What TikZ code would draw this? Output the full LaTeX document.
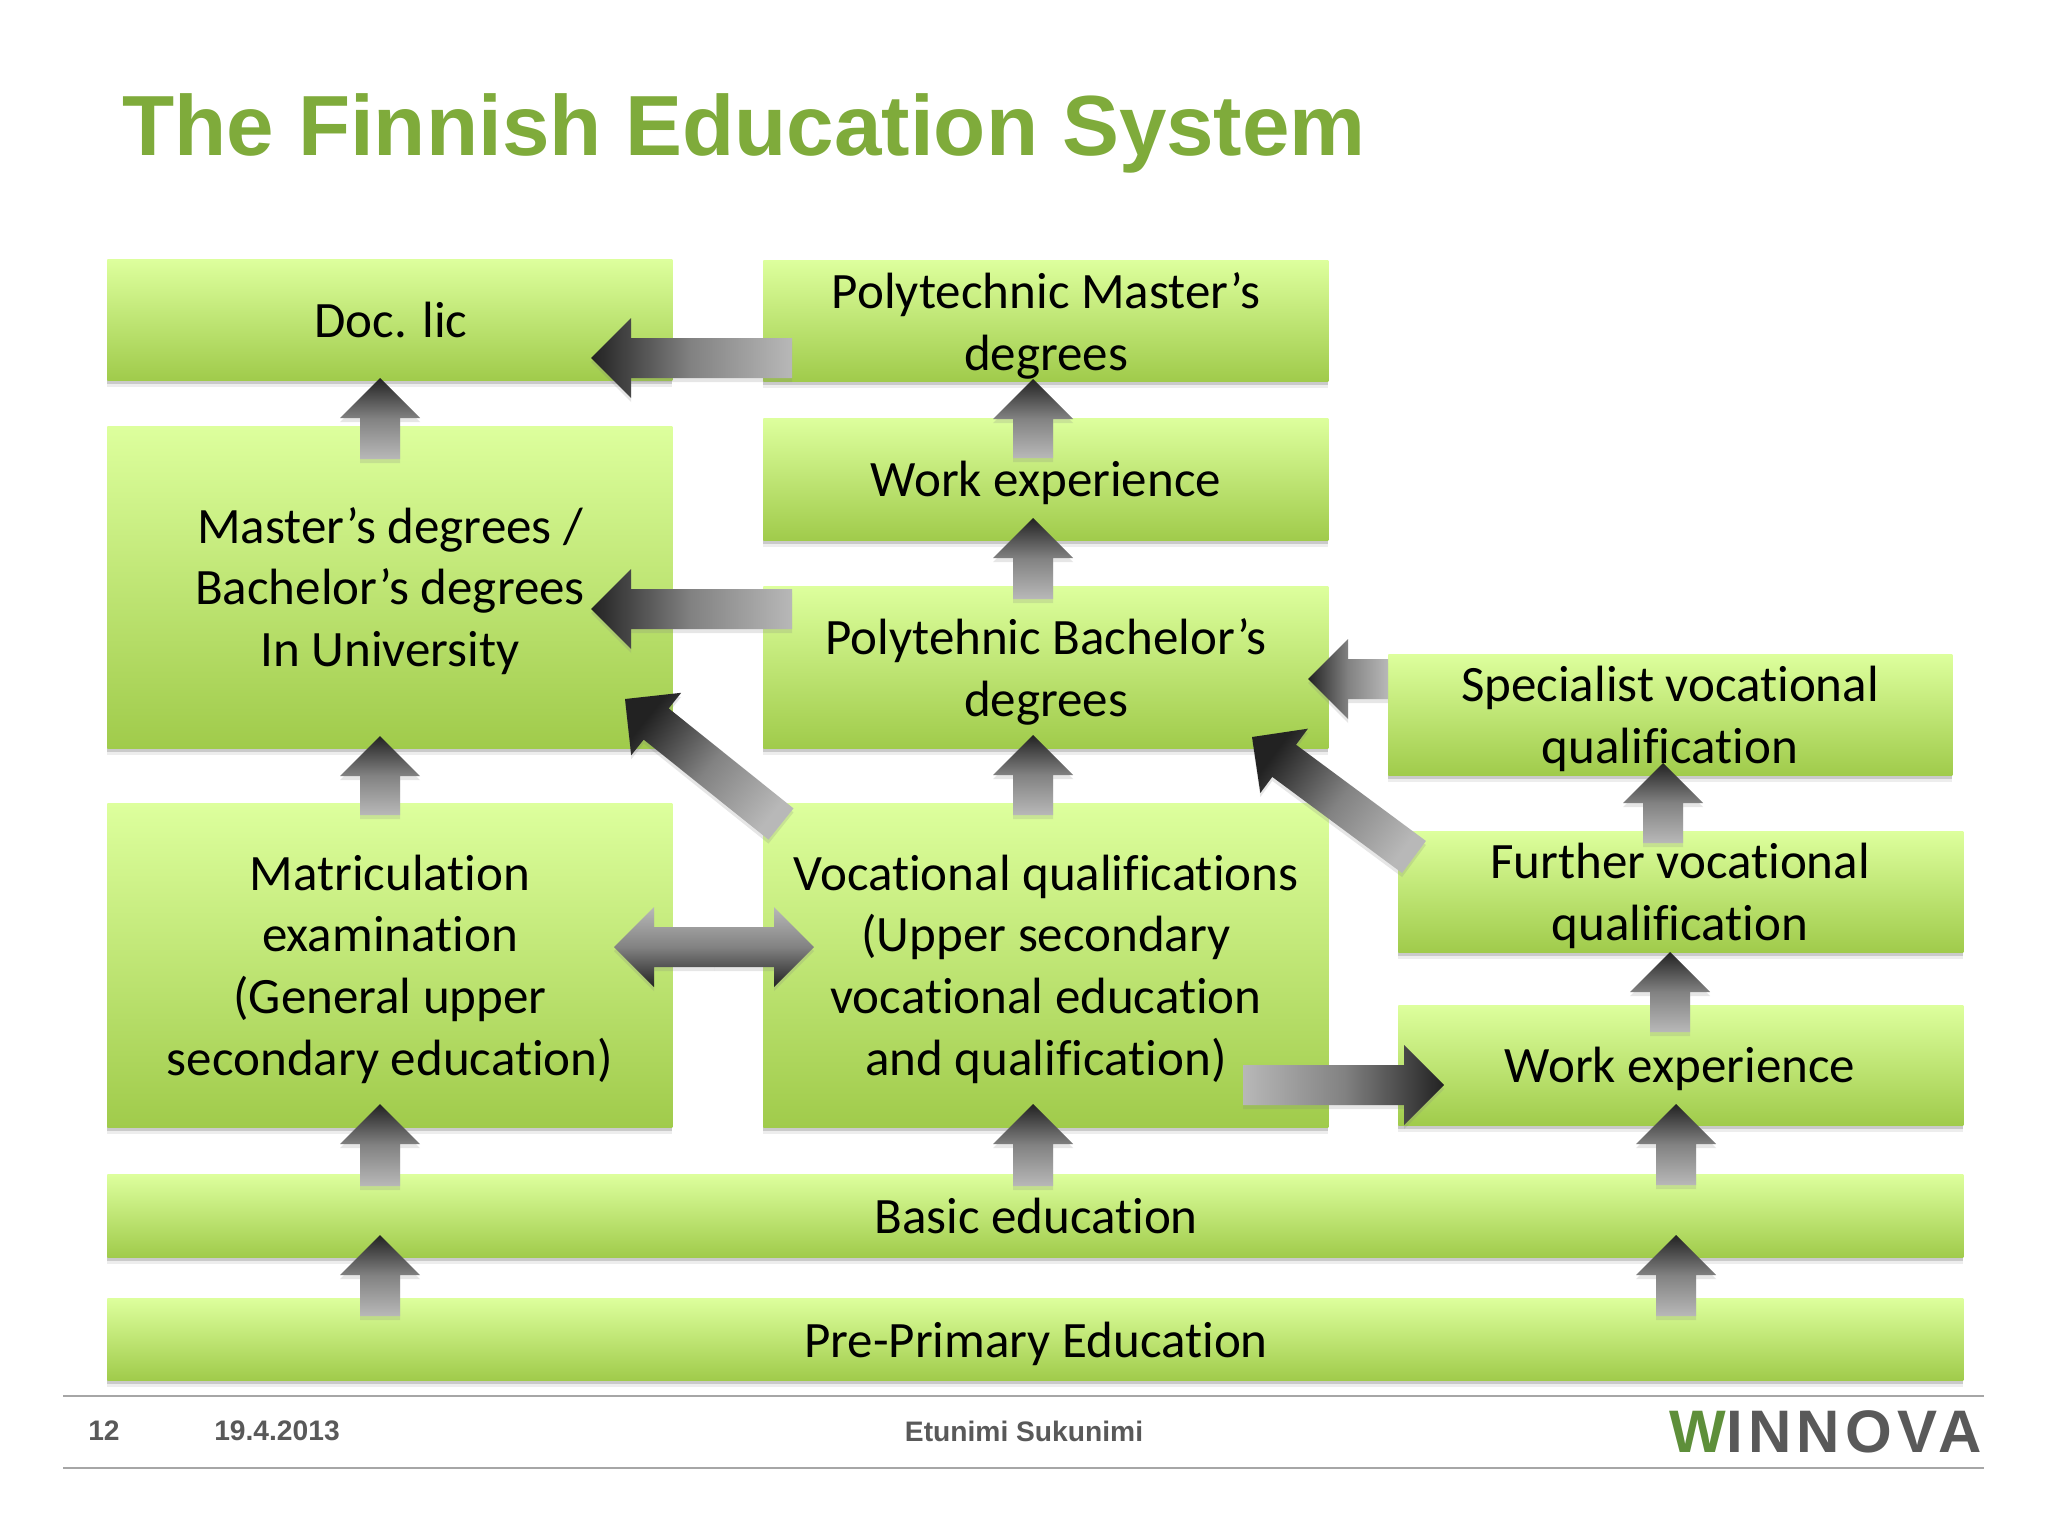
\documentclass[tikz,border=0pt]{standalone}
\usepackage{fontspec}
\setmainfont[Ligatures=NoCommon]{Carlito}
\newfontfamily\headfont{Liberation Sans}
\newfontfamily\logofont[LetterSpace=9]{Liberation Sans}
\usetikzlibrary{calc,shadows}
\definecolor{titlegreen}{HTML}{7FAB3B}
\definecolor{boxtop}{HTML}{DDFF9D}
\definecolor{boxbottom}{HTML}{A0CB4B}
\definecolor{arrowdark}{HTML}{222222}
\definecolor{arrowmid}{HTML}{828282}
\definecolor{arrowlight}{HTML}{B8B8B8}
\definecolor{footgrey}{HTML}{595959}
\definecolor{logogreen}{HTML}{5E8F3A}
\tikzset{
	stage/.style={rectangle, top color=boxtop, bottom color=boxbottom, inner sep=0pt, anchor=north west, drop shadow={shadow xshift=0pt, shadow yshift=-3.5pt, opacity=0.10, fill=black!70}, drop shadow={shadow xshift=0pt, shadow yshift=-2pt, opacity=0.22, fill=black!70}},
	stagetext/.style={text=black, align=center, font=\fontsize{25.5}{30.8}\selectfont},
	footer/.style={font=\headfont\bfseries\fontsize{14.1}{17}\selectfont, text=footgrey},
	rule/.style={draw=black!35, line width=1.1pt},
}
% block arrow between two named coordinates
\newcommand{\fatarrow}[3][0]{
	\shade[bottom color=arrowlight, top color=arrowdark, middle color=arrowmid, shading angle=#1, drop shadow={shadow xshift=0pt, shadow yshift=-2pt, opacity=0.2, fill=black!50}]
		($(#2)!10pt!90:(#3)$) -- ($(#3)!20pt!(#2)!10pt!90:(#3)$) -- ($(#3)!20pt!(#2)!20pt!90:(#3)$) -- (#3)
		-- ($(#3)!20pt!(#2)!20pt!-90:(#3)$) -- ($(#3)!20pt!(#2)!10pt!-90:(#3)$) -- ($(#2)!10pt!-90:(#3)$) -- cycle;
}
\begin{document}
\begin{tikzpicture}[x=0.5pt, y=-0.5pt]
	\useasboundingbox (0,0) rectangle (2048,1536);
	\node (title) [anchor=west, font=\headfont\bfseries\fontsize{42.7}{50}\selectfont, text=titlegreen] at (115.5,133) {The Finnish Education System};

	\node (doclic) [stage, minimum width=282.5pt, minimum height=60.5pt] at (107,259) {};
	\node (masters) [stage, minimum width=282.5pt, minimum height=161pt] at (107,426) {};
	\node (matric) [stage, minimum width=282.5pt, minimum height=162pt] at (107,803) {};
	\node (polymaster) [stage, minimum width=282.5pt, minimum height=60.5pt] at (763,260) {};
	\node (workpoly) [stage, minimum width=282.5pt, minimum height=61pt] at (763,418) {};
	\node (polybachelor) [stage, minimum width=282.5pt, minimum height=81pt] at (763,586) {};
	\node (vocational) [stage, minimum width=282.5pt, minimum height=162pt] at (763,803) {};
	\node (specialist) [stage, minimum width=282pt, minimum height=60.5pt] at (1388,654) {};
	\node (further) [stage, minimum width=282.5pt, minimum height=60.5pt] at (1398,831) {};
	\node (workvoc) [stage, minimum width=282.5pt, minimum height=60pt] at (1398,1005) {};
	\node (basic) [stage, minimum width=928pt, minimum height=41.5pt] at (107,1174) {};
	\node (preprimary) [stage, minimum width=928pt, minimum height=41pt] at (107,1298) {};

	% tails and heads of the block arrows
	\coordinate (doctail) at (380,459); \coordinate (dochead) at (380,378);
	\coordinate (mastail) at (380,815); \coordinate (mashead) at (380,736);
	\coordinate (mattail) at (380,1186); \coordinate (mathead) at (380,1104);
	\coordinate (bastail) at (380,1316); \coordinate (bashead) at (380,1235);
	\coordinate (pmtail) at (1033,458); \coordinate (pmhead) at (1033,379);
	\coordinate (wptail) at (1033,599); \coordinate (wphead) at (1033,518);
	\coordinate (pbtail) at (1033,815); \coordinate (pbhead) at (1033,735);
	\coordinate (votail) at (1033,1186); \coordinate (vohead) at (1033,1104);
	\coordinate (sptail) at (1663,843); \coordinate (sphead) at (1663,763);
	\coordinate (futail) at (1670,1032); \coordinate (fuhead) at (1670,952);
	\coordinate (wvtail) at (1676,1185); \coordinate (wvhead) at (1676,1104);
	\coordinate (pptail) at (1676,1316); \coordinate (pphead) at (1676,1235);
	\coordinate (lictail) at (792,358); \coordinate (lichead) at (591,358);
	\coordinate (unitail) at (792,609); \coordinate (unihead) at (591,609);
	\coordinate (spectail) at (1388,679); \coordinate (spechead) at (1308,679);
	\coordinate (outtail) at (1243,1085); \coordinate (outhead) at (1444,1085);
	\coordinate (diagtail) at (781,824); \coordinate (diaghead) at (625,699);
	\coordinate (furthertail) at (1414,857); \coordinate (furtherhead) at (1252,737);
	\coordinate (pairleft) at (614,947); \coordinate (pairright) at (814,947);
	\coordinate (pairmid) at (714,947);

	\foreach \arrowname in {doc,mas,mat,bas,pm,wp,pb,vo,sp,fu,wv,pp}
		{\fatarrow{\arrowname tail}{\arrowname head}}
	\fatarrow[90]{lictail}{lichead}
	\fatarrow[90]{unitail}{unihead}
	\fatarrow[90]{spectail}{spechead}
	\fatarrow[-90]{outtail}{outhead}
	\fatarrow[51]{diagtail}{diaghead}
	\fatarrow[53]{furthertail}{furtherhead}
	\fatarrow[180]{pairmid}{pairleft}
	\fatarrow[180]{pairmid}{pairright}

	% texts stay above the arrows
	\node (doclictext) [stagetext] at (391,320) {Doc. lic};
	\node (masterstext) [stagetext] at (390,591) {Master’s degrees /\\Bachelor’s degrees\\In University};
	\node (matrictext) [stagetext] at (390,969) {Matriculation\\examination\\(General upper\\secondary education)};
	\node (polymastertext) [stagetext] at (1046,326) {Polytechnic Master’s\\degrees};
	\node (workpolytext) [stagetext] at (1046,483) {Work experience};
	\node (polybachelortext) [stagetext] at (1046,672) {Polytehnic Bachelor’s\\degrees};
	\node (vocationaltext) [stagetext] at (1046,969) {Vocational qualifications\\(Upper secondary\\vocational education\\and qualification)};
	\node (specialisttext) [stagetext] at (1670,719) {Specialist vocational\\qualification};
	\node (furthertext) [stagetext] at (1680,896) {Further vocational\\qualification};
	\node (workvoctext) [stagetext] at (1680,1069) {Work experience};
	\node (basictext) [stagetext] at (1036,1216) {Basic education};
	\node (preprimarytext) [stagetext] at (1036,1344) {Pre-Primary Education};

	\coordinate (ruletopleft) at (63,1396); \coordinate (ruletopright) at (1984,1396);
	\coordinate (rulebotleft) at (63,1468); \coordinate (rulebotright) at (1984,1468);
	\draw[rule] (ruletopleft) -- (ruletopright);
	\draw[rule] (rulebotleft) -- (rulebotright);
	\node (pagenum) [footer] at (104,1431) {12};
	\node (datestr) [footer] at (277,1431) {19.4.2013};
	\node (author) [footer] at (1024,1431) {Etunimi Sukunimi};
	\node (logo) [anchor=east, text=footgrey, font=\logofont\bfseries\fontsize{30}{36}\selectfont] at (1989,1432) {{\color{logogreen}W}INNOVA};
\end{tikzpicture}
\end{document}
